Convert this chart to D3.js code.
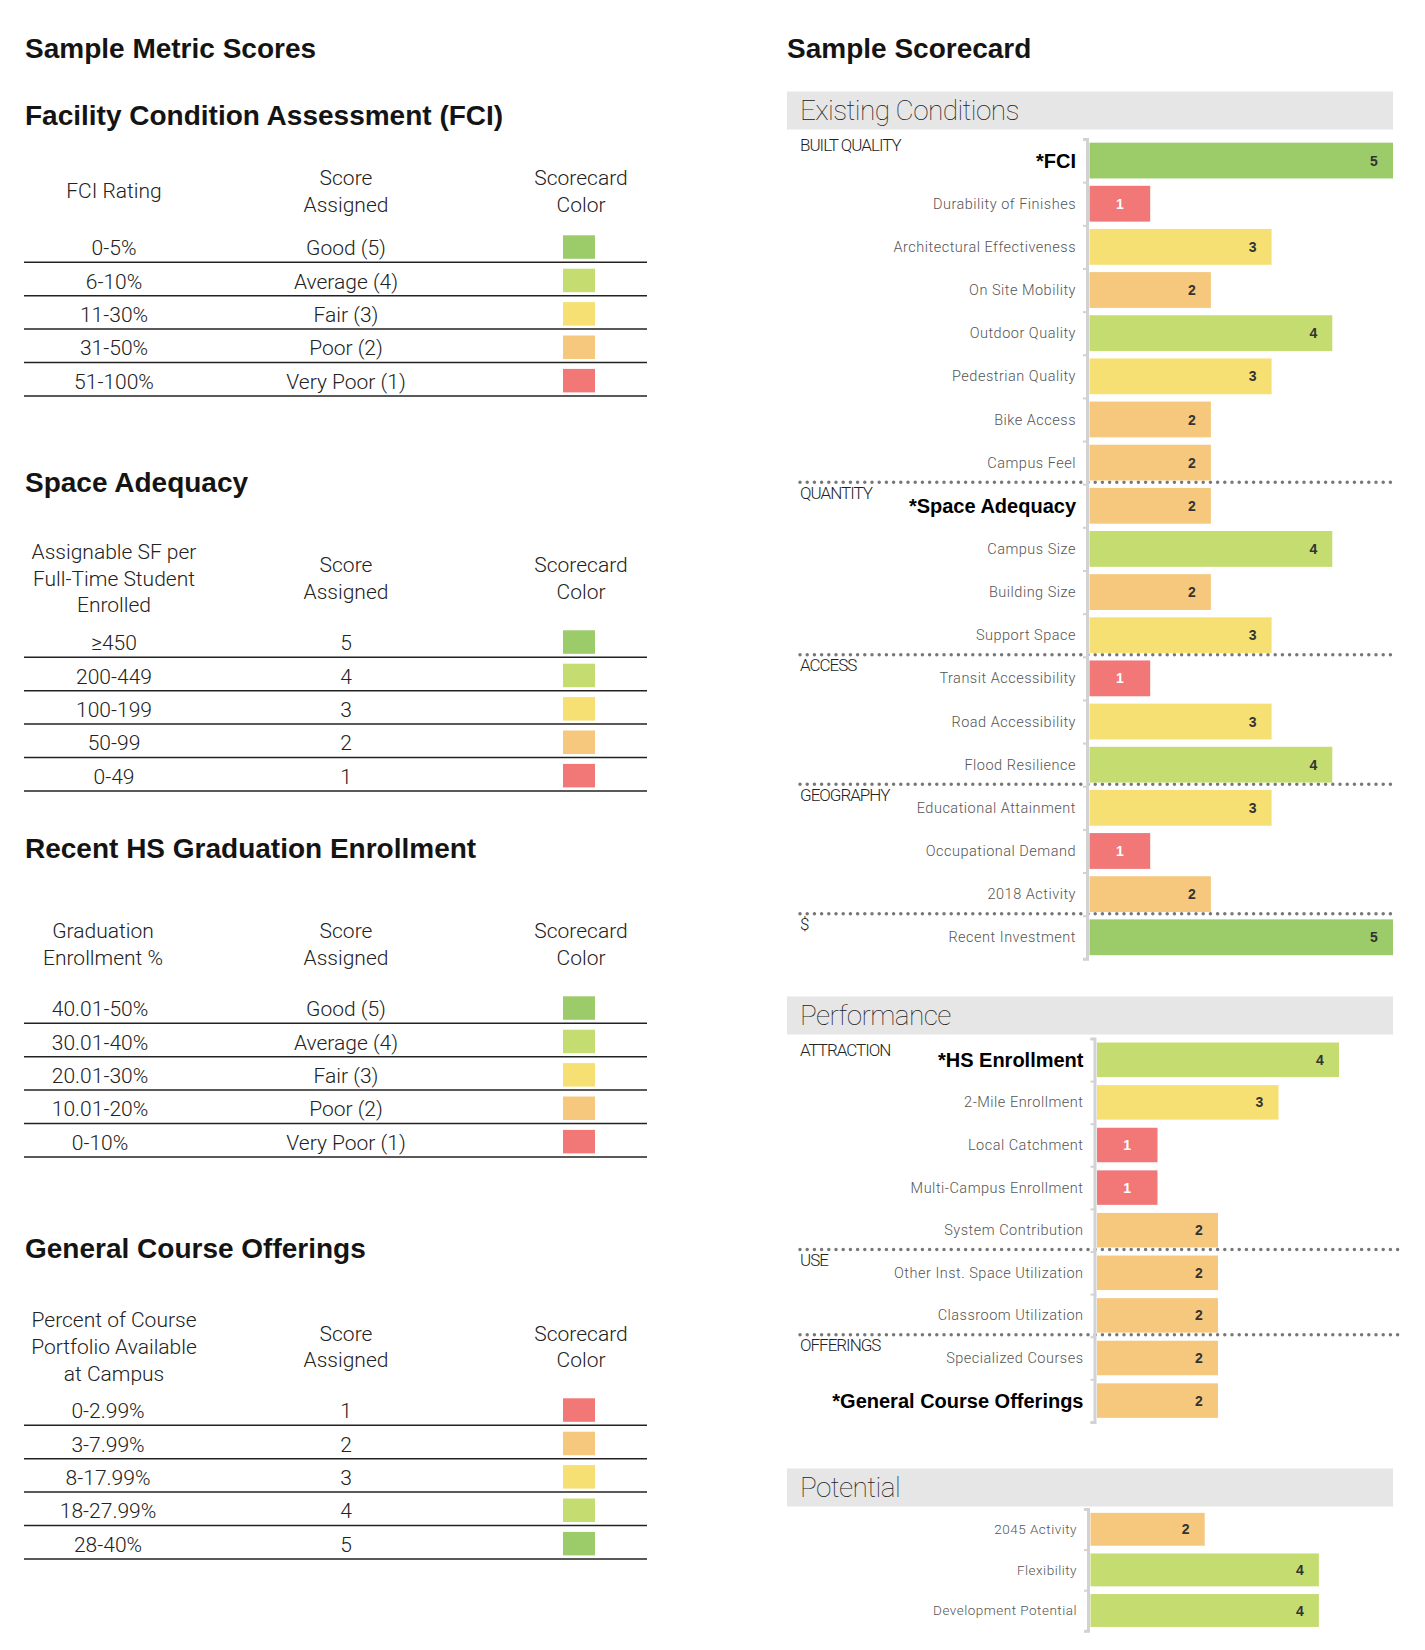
<!DOCTYPE html>
<html>

<head>
  <meta http-equiv="Content-Type" content="text/html;charset=utf-8" />
  <style type="text/css">
    body { margin: 0; background: #fff; }
    .title { font-family: "Liberation Sans", Arial, sans-serif; font-weight: bold; font-size: 28px; fill: #141414; }
    .cell { font-family: Roboto, "Liberation Sans", sans-serif; font-weight: 300; font-size: 21px; fill: #222; }
    .panelTitle { font-family: Roboto, "Liberation Sans", sans-serif; font-weight: 100; font-size: 28px; fill: #222; letter-spacing: -0.6px; }
    .group { font-family: Roboto, "Liberation Sans", sans-serif; font-weight: 300; font-size: 17px; fill: #222; letter-spacing: -1px; }
    .item { font-family: Roboto, "Liberation Sans", sans-serif; font-weight: 300; font-size: 14.5px; fill: #555; letter-spacing: 0.5px; }
    .item.key { font-family: "Liberation Sans", Arial, sans-serif; font-weight: bold; font-size: 20px; fill: #000; letter-spacing: 0; }
    .val { font-family: "Liberation Sans", Arial, sans-serif; font-weight: bold; font-size: 14px; fill: #333; }
  </style>
</head>

<body>
  <div id="svgContainer"></div>
  <script src="https://d3js.org/d3.v7.min.js"></script>

  <script type="text/javascript">
    var w = 1425;
    var h = 1650;

    // score -> scorecard colour
    var scores = [1, 2, 3, 4, 5];
    var scoreColors = ["#f27878", "#f5c87e", "#f6e074", "#c5dc71", "#9ccb6a"];
    var color = d3.scaleOrdinal().domain(scores).range(scoreColors);

    // ---- metric tables ----
    var scoreHeader = ["Score", "Assigned"];
    var colorHeader = ["Scorecard", "Color"];

    var fciHeader = ["FCI Rating"];
    var fciRanges = ["0-5%", "6-10%", "11-30%", "31-50%", "51-100%"];
    var fciScores = ["Good (5)", "Average (4)", "Fair (3)", "Poor (2)", "Very Poor (1)"];
    var fciValues = [5, 4, 3, 2, 1];

    var spaceHeader = ["Assignable SF per", "Full-Time Student", "Enrolled"];
    var spaceRanges = ["\u2265450", "200-449", "100-199", "50-99", "0-49"];
    var spaceScores = ["5", "4", "3", "2", "1"];
    var spaceValues = [5, 4, 3, 2, 1];

    var gradHeader = ["Graduation", "Enrollment %"];
    var gradRanges = ["40.01-50%", "30.01-40%", "20.01-30%", "10.01-20%", "0-10%"];
    var gradScores = ["Good (5)", "Average (4)", "Fair (3)", "Poor (2)", "Very Poor (1)"];
    var gradValues = [5, 4, 3, 2, 1];

    var courseHeader = ["Percent of Course", "Portfolio Available", "at Campus"];
    var courseRanges = ["0-2.99%", "3-7.99%", "8-17.99%", "18-27.99%", "28-40%"];
    var courseScores = ["1", "2", "3", "4", "5"];
    var courseValues = [1, 2, 3, 4, 5];

    // ---- scorecard ----
    var existingLabels = ["*FCI", "Durability of Finishes", "Architectural Effectiveness", "On Site Mobility",
      "Outdoor Quality", "Pedestrian Quality", "Bike Access", "Campus Feel",
      "*Space Adequacy", "Campus Size", "Building Size", "Support Space",
      "Transit Accessibility", "Road Accessibility", "Flood Resilience",
      "Educational Attainment", "Occupational Demand", "2018 Activity",
      "Recent Investment"];
    var existingValues = [5, 1, 3, 2, 4, 3, 2, 2, 2, 4, 2, 3, 1, 3, 4, 3, 1, 2, 5];
    var existingGroups = ["BUILT QUALITY", "QUANTITY", "ACCESS", "GEOGRAPHY", "$"];
    var existingGroupStarts = [0, 8, 12, 15, 18];

    var performanceLabels = ["*HS Enrollment", "2-Mile Enrollment", "Local Catchment", "Multi-Campus Enrollment",
      "System Contribution", "Other Inst. Space Utilization", "Classroom Utilization",
      "Specialized Courses", "*General Course Offerings"];
    var performanceValues = [4, 3, 1, 1, 2, 2, 2, 2, 2];
    var performanceGroups = ["ATTRACTION", "USE", "OFFERINGS"];
    var performanceGroupStarts = [0, 5, 7];

    var potentialLabels = ["2045 Activity", "Flexibility", "Development Potential"];
    var potentialValues = [2, 4, 4];

    var svg = d3.select("#svgContainer")
      .append("svg")
      .attr("width", w)
      .attr("height", h);

    svg.append("text").attr("class", "title").attr("x", 25).attr("y", 58).text("Sample Metric Scores");
    svg.append("text").attr("class", "title").attr("x", 787).attr("y", 58).text("Sample Scorecard");

    var tables = [
      { title: "Facility Condition Assessment (FCI)", header: fciHeader, ranges: fciRanges, scores: fciScores, values: fciValues,
        titleY: 125, headY: 191, lineY: 262.3, c1: 114, c1Head: 114 },
      { title: "Space Adequacy", header: spaceHeader, ranges: spaceRanges, scores: spaceScores, values: spaceValues,
        titleY: 492, headY: 578.3, lineY: 657.3, c1: 114, c1Head: 114 },
      { title: "Recent HS Graduation Enrollment", header: gradHeader, ranges: gradRanges, scores: gradScores, values: gradValues,
        titleY: 858, headY: 944, lineY: 1023.3, c1: 100, c1Head: 103 },
      { title: "General Course Offerings", header: courseHeader, ranges: courseRanges, scores: courseScores, values: courseValues,
        titleY: 1257.5, headY: 1346.7, lineY: 1425.3, c1: 108, c1Head: 114 }
    ];

    var rowStep = 33.4;
    var headLine = 26.7;
    var c2 = 346, c3 = 579;

    function headerBlock(g, lines, x, cy) {
      var t = g.append("text").attr("class", "cell").attr("text-anchor", "middle");
      lines.forEach(function (s, i) {
        t.append("tspan").attr("x", x)
          .attr("y", cy + (i - (lines.length - 1) / 2) * headLine)
          .attr("dy", "0.35em").text(s);
      });
    }

    tables.forEach(function (t) {
      var g = svg.append("g");
      g.append("text").attr("class", "title").attr("x", 25).attr("y", t.titleY).text(t.title);

      headerBlock(g, t.header, t.c1Head, t.headY);
      headerBlock(g, scoreHeader, c2, t.headY);
      headerBlock(g, colorHeader, c3 + 2, t.headY);

      var y = d3.scaleBand().domain(d3.range(t.ranges.length))
        .range([t.lineY - rowStep, t.lineY + (t.ranges.length - 1) * rowStep]);

      var rows = g.selectAll(".row").data(t.ranges).enter().append("g")
        .attr("transform", function (d, i) { return "translate(0," + (y(i) + y.bandwidth()) + ")"; });

      rows.append("line").attr("x1", 24).attr("x2", 647).attr("y1", 0).attr("y2", 0)
        .attr("stroke", "#222").attr("stroke-width", 1.5);
      rows.append("text").attr("class", "cell").attr("text-anchor", "middle")
        .attr("x", t.c1).attr("y", -14.5).attr("dy", "0.35em").text(function (d) { return d; });
      rows.append("text").attr("class", "cell").attr("text-anchor", "middle")
        .attr("x", c2).attr("y", -14.5).attr("dy", "0.35em").text(function (d, i) { return t.scores[i]; });
      rows.append("rect").attr("x", c3 - 16).attr("y", -27).attr("width", 32).attr("height", 23.5)
        .attr("fill", function (d, i) { return color(t.values[i]); });
    });

    // ---- scorecard panels ----
    function drawPanel(p) {
      var g = svg.append("g");
      g.append("rect").attr("x", 787).attr("y", p.bandY).attr("width", 606).attr("height", 38).attr("fill", "#e6e6e6");
      g.append("text").attr("class", "panelTitle").attr("x", 800).attr("y", p.bandY + 28).text(p.title);

      var n = p.labels.length;
      var y = d3.scaleBand().domain(d3.range(n))
        .range([p.top, p.top + p.step * n]).paddingInner(p.pad).paddingOuter(p.pad / 2);
      var x = d3.scaleLinear().domain([0, 5]).range([p.x0, p.x0 + p.unit * 5]);

      // group separators and labels
      (p.groups || []).forEach(function (name, k) {
        var start = p.starts[k];
        var ly;
        if (start > 0) {
          var sy = p.top + start * p.step - 2;
          g.append("line").attr("x1", 800).attr("x2", p.sepEnd).attr("y1", sy).attr("y2", sy)
            .attr("stroke", "#777").attr("stroke-width", 3.5)
            .attr("stroke-linecap", "round").attr("stroke-dasharray", "0 7.2");
          ly = sy + 16.5;
        } else {
          ly = p.bandY + 38 + 21;
        }
        g.append("text").attr("class", "group").attr("x", 800).attr("y", ly).text(name);
      });

      // axis with ticks at row boundaries
      var edge = d3.scaleLinear().domain([0, n]).range([p.top, p.top + p.step * n]);
      var ax = g.append("g").attr("transform", "translate(" + p.axisX + ",0)")
        .call(d3.axisLeft(edge).ticks(n).tickSize(4).tickFormat(""));
      ax.select(".domain").attr("stroke", "#d2d2d2").attr("stroke-width", 3);
      ax.selectAll(".tick line").attr("stroke", "#d2d2d2").attr("stroke-width", 2);

      g.selectAll(".bar").data(p.values).enter().append("rect")
        .attr("x", x(0)).attr("y", function (d, i) { return y(i); })
        .attr("width", function (d) { return x(d) - x(0); })
        .attr("height", y.bandwidth())
        .attr("fill", function (d) { return color(d); });

      g.selectAll(".val").data(p.values).enter().append("text")
        .attr("class", "val").attr("text-anchor", "middle")
        .attr("x", function (d) { return d === 1 ? (x(0) + x(1)) / 2 : x(d) - 19; })
        .attr("y", function (d, i) { return y(i) + y.bandwidth() / 2; })
        .attr("dy", "0.36em")
        .style("fill", function (d) { return d === 1 ? "#fff" : null; })
        .text(function (d) { return d; });

      g.selectAll(".lbl").data(p.labels).enter().append("text")
        .attr("class", function (d) { return d.charAt(0) === "*" ? "item key" : "item"; })
        .attr("text-anchor", "end")
        .attr("x", p.axisX - 11)
        .attr("y", function (d, i) { return y(i) + y.bandwidth() / 2; })
        .attr("dy", "0.35em")
        .style("font-size", function (d) { return d.charAt(0) === "*" ? null : p.labelSize; })
        .text(function (d) { return d; });
    }

    drawPanel({ title: "Existing Conditions", labels: existingLabels, values: existingValues,
      groups: existingGroups, starts: existingGroupStarts,
      bandY: 91.5, top: 139, step: 43.15, pad: 0.17, axisX: 1087, x0: 1089.5, unit: 60.7, sepEnd: 1391, labelSize: "14.5px" });

    drawPanel({ title: "Performance", labels: performanceLabels, values: performanceValues,
      groups: performanceGroups, starts: performanceGroupStarts,
      bandY: 996.5, top: 1038.5, step: 42.6, pad: 0.19, axisX: 1094.5, x0: 1097, unit: 60.5, sepEnd: 1402, labelSize: "14.5px" });

    drawPanel({ title: "Potential", labels: potentialLabels, values: potentialValues,
      bandY: 1468.5, top: 1509, step: 40.6, pad: 0.19, axisX: 1088, x0: 1090.5, unit: 57.1, sepEnd: 1391, labelSize: "13.5px" });
  </script>
</body>

</html>
